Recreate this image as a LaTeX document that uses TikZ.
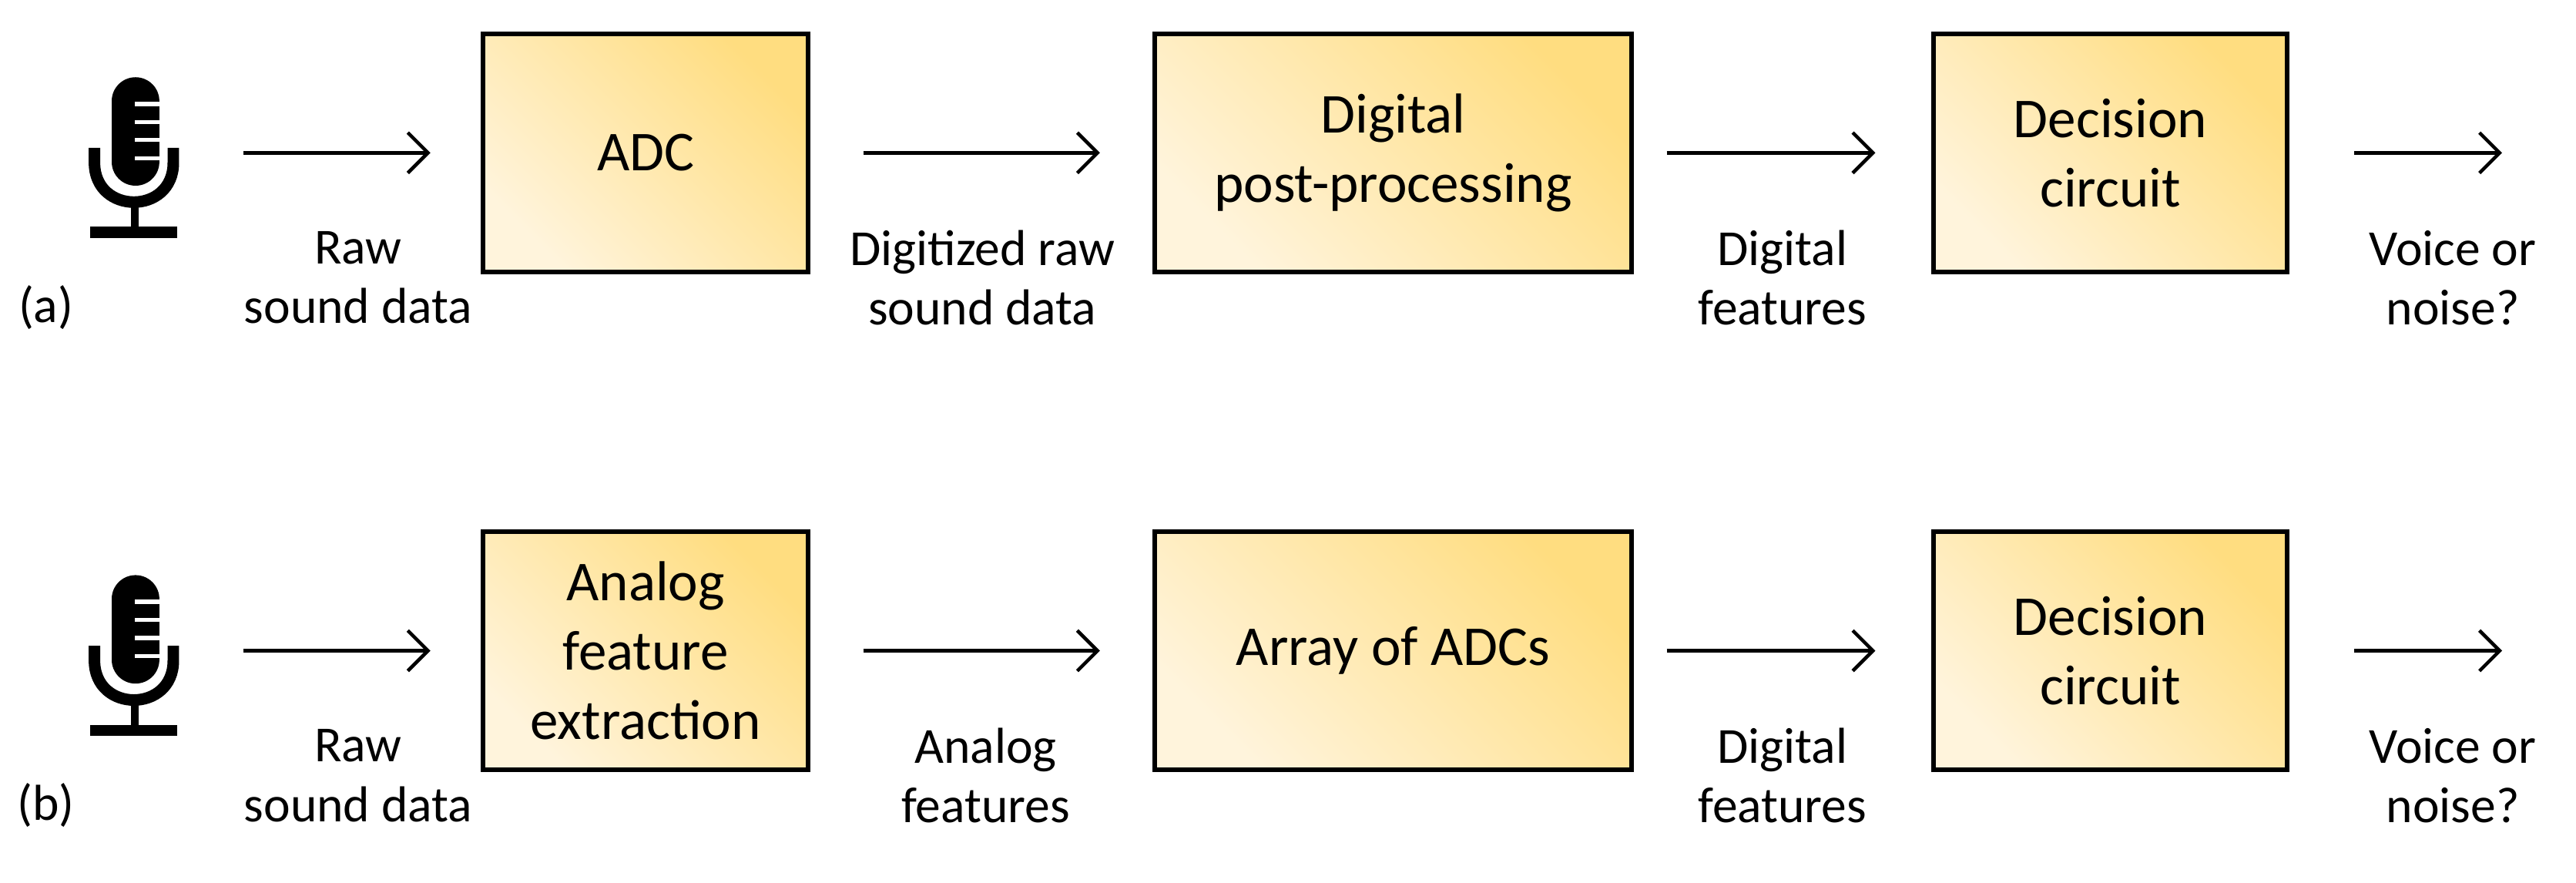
\documentclass[tikz,border=0pt]{standalone}
\usepackage{fontspec}
\setmainfont{Carlito}
\usetikzlibrary{arrows.meta}
\definecolor{light}{HTML}{FFF4DC}
\definecolor{gold}{HTML}{FFDD80}
\begin{document}
\begin{tikzpicture}[x=0.02cm,y=-0.02cm,
  box/.style={draw=black,line width=1.7pt,bottom color=light,top color=gold,shading angle=-45,align=center,font=\fontsize{19.5}{24}\selectfont},
  lab/.style={align=center,font=\fontsize{17.5}{20.6}\selectfont},
  arr/.style={line width=1.2pt,-{Straight Barb[length=7pt,width=14pt,line width=1.2pt]}}]
\useasboundingbox (0,0) rectangle (1568,537);
\newcommand\mic[1]{%
 \begin{scope}[yshift=#1*-0.02cm]
  \fill[rounded corners=0.29cm] (68,47) rectangle (97,113);
  \foreach \yy in {62,73,84,95}{\fill[white] (82,\yy) rectangle (98,\yy+2.5);}
  \draw[line width=4pt] (57.5,90) -- (57.5,99) .. controls (57.5,131) and (105.5,131) .. (105.5,99) -- (105.5,90);
  \fill (79.5,122) rectangle (84.5,139);
  \fill (55,138) rectangle (108,145);
 \end{scope}}
% row a
\mic{0}
\node[box,minimum width=198*0.02cm,minimum height=145*0.02cm] (a1) at (393,93) {ADC};
\node[box,minimum width=290*0.02cm,minimum height=145*0.02cm] (a2) at (848,93) {Digital\\post-processing};
\node[box,minimum width=215*0.02cm,minimum height=145*0.02cm] (a3) at (1284.5,93) {Decision\\circuit};
\coordinate (a0) at (148,93); \coordinate (a4) at (1523,93);
\coordinate (a0e) at (262,93); \coordinate (a3s) at (1433,93);
\draw[arr] (a0) -- (a0e);
\draw[arr] ([xshift=32*0.02cm]a1.east) -- ([xshift=-32*0.02cm]a2.west);
\draw[arr] ([xshift=20*0.02cm]a2.east) -- ([xshift=-34*0.02cm]a3.west);
\draw[arr] (a3s) -- (a4);
\node[lab] (la0) at (218,169) {Raw\\sound data};
\node[lab] (la1) at (598,169) {Digitized raw\\sound data};
\node[lab] (la2) at (1085,169) {Digital\\features};
\node[lab] (la3) at (1493,169) {Voice or\\noise?};
\node[lab] (ta) at (28,187) {(a)};
% row b
\mic{303}
\node[box,minimum width=198*0.02cm,minimum height=145*0.02cm] (b1) at (393,396) {Analog\\feature\\extraction};
\node[box,minimum width=290*0.02cm,minimum height=145*0.02cm] (b2) at (848,396) {Array of ADCs};
\node[box,minimum width=215*0.02cm,minimum height=145*0.02cm] (b3) at (1284.5,396) {Decision\\circuit};
\coordinate (b0) at (148,396); \coordinate (b4) at (1523,396);
\coordinate (b0e) at (262,396); \coordinate (b3s) at (1433,396);
\draw[arr] (b0) -- (b0e);
\draw[arr] ([xshift=32*0.02cm]b1.east) -- ([xshift=-32*0.02cm]b2.west);
\draw[arr] ([xshift=20*0.02cm]b2.east) -- ([xshift=-34*0.02cm]b3.west);
\draw[arr] (b3s) -- (b4);
\node[lab] (lb0) at (218,472) {Raw\\sound data};
\node[lab] (lb1) at (600,472) {Analog\\features};
\node[lab] (lb2) at (1085,472) {Digital\\features};
\node[lab] (lb3) at (1493,472) {Voice or\\noise?};
\node[lab] (tb) at (28,490) {(b)};
\end{tikzpicture}
\end{document}
